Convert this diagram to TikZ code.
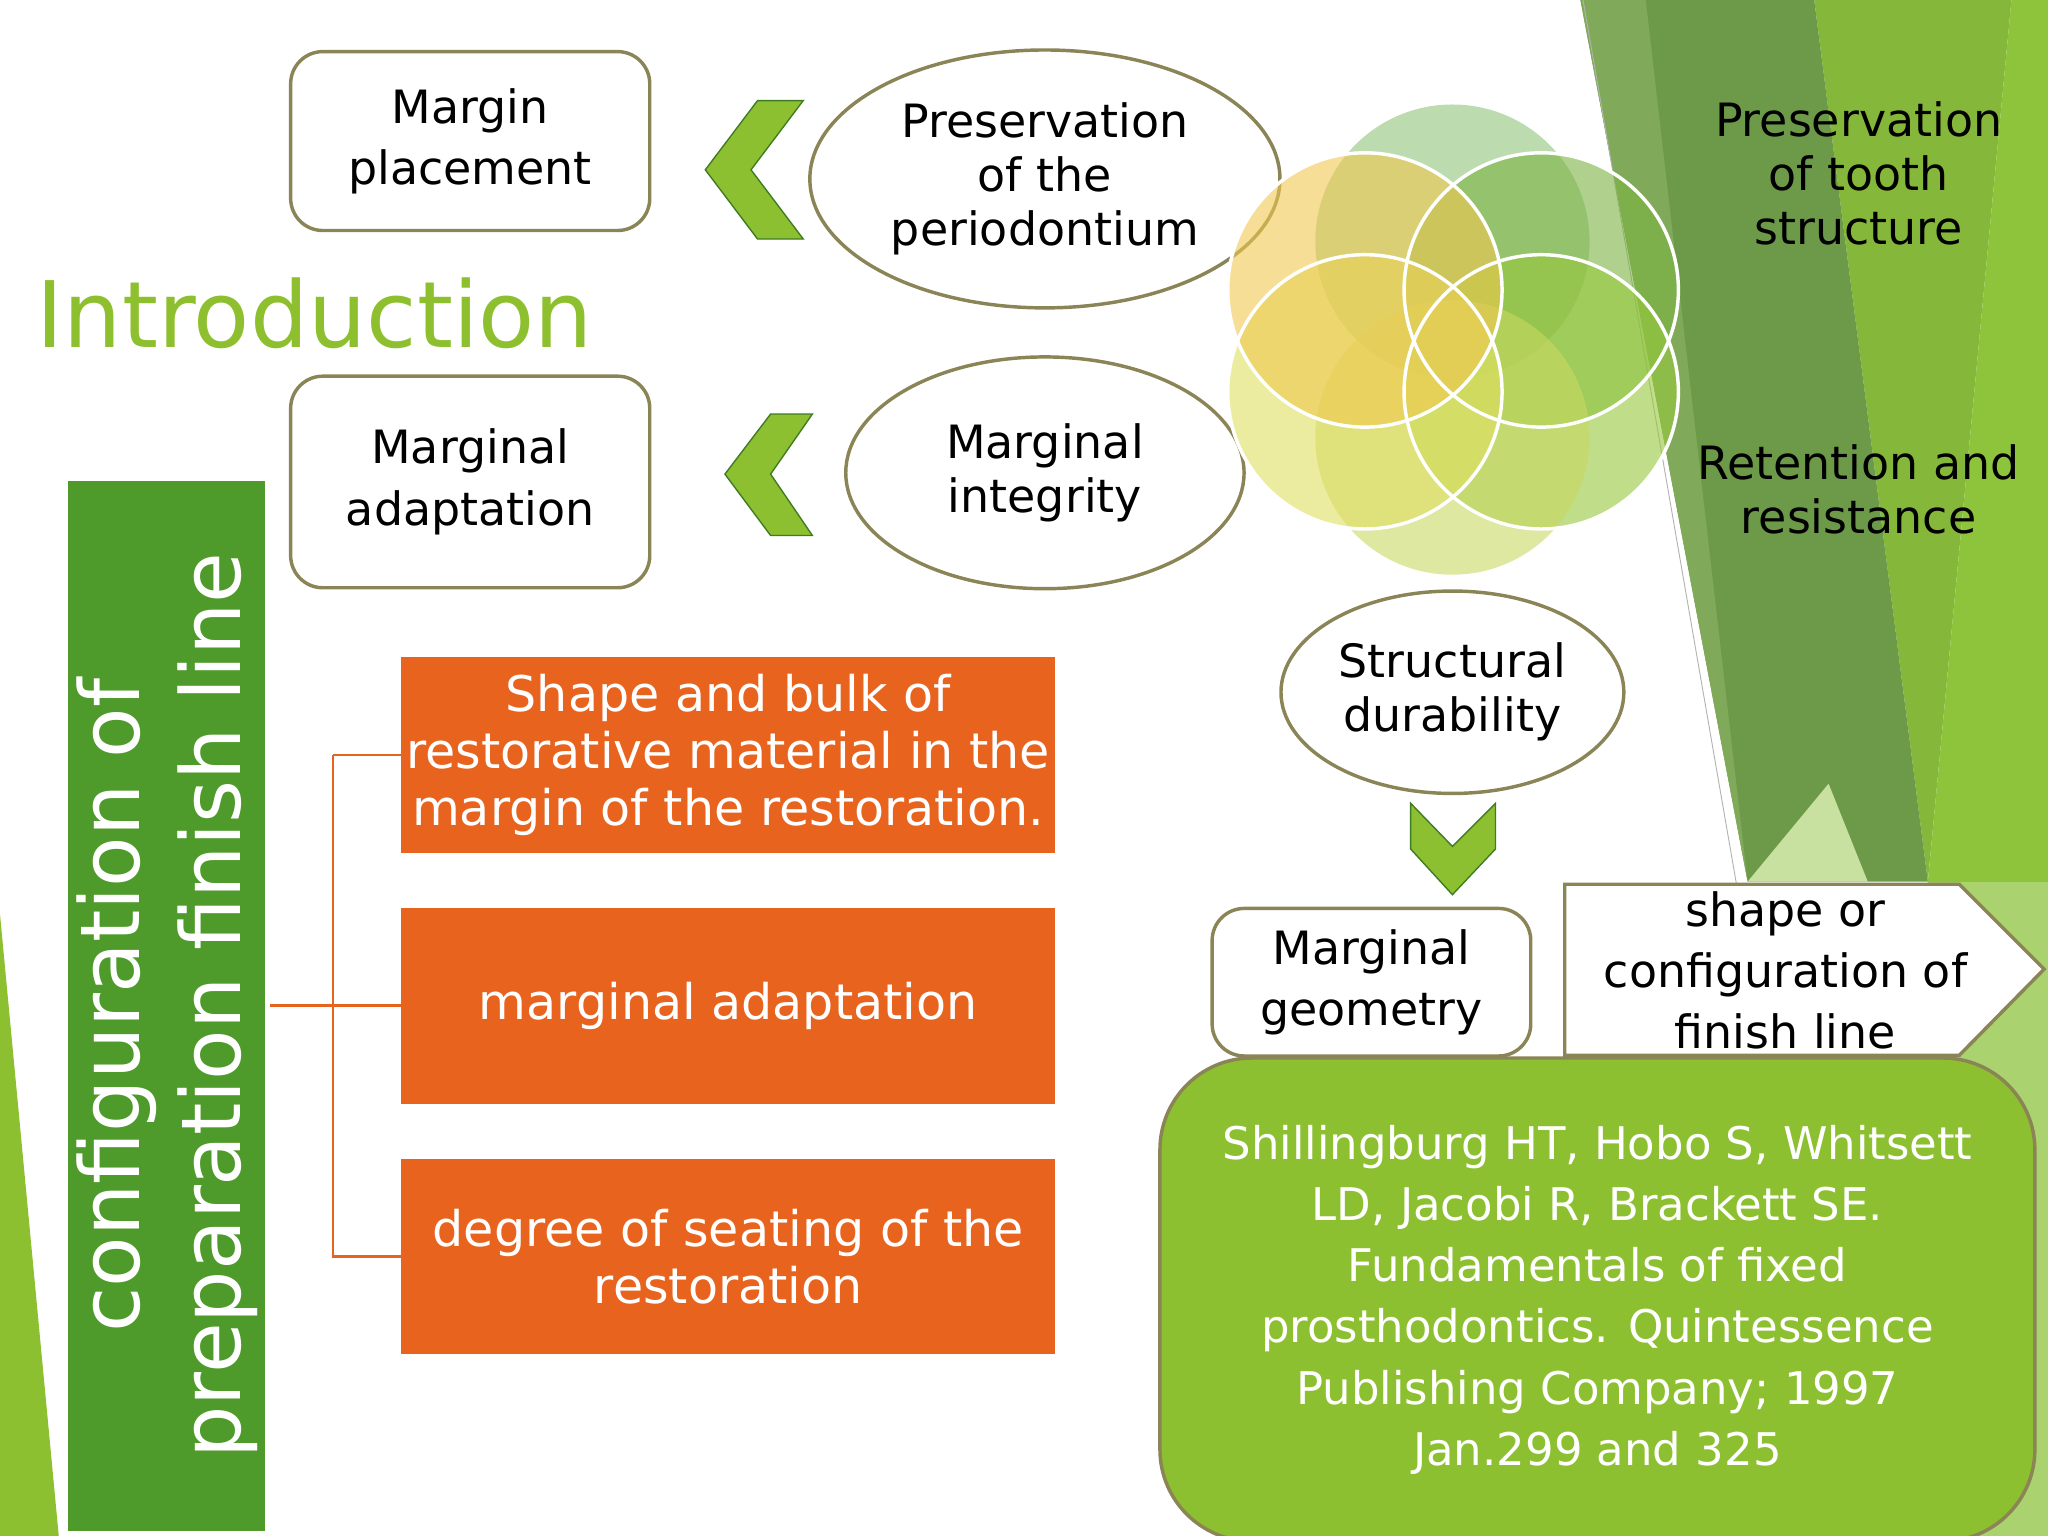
\documentclass[tikz,border=0pt]{standalone}
\usepackage{fontspec}
\setmainfont{DejaVu Sans}
\usetikzlibrary{shapes.geometric}
\definecolor{olive}{HTML}{8A8456}
\definecolor{ora}{HTML}{E8641E}
\definecolor{dg}{HTML}{4E9A2A}
\definecolor{lg}{HTML}{8DC030}
\definecolor{bgA}{RGB}{133,184,58}
\definecolor{bgB}{RGB}{141,196,60}
\definecolor{bgC}{RGB}{108,154,72}
\definecolor{bgD}{RGB}{128,170,90}
\definecolor{bgE}{RGB}{200,224,160}
\definecolor{bgF}{RGB}{170,210,110}
\definecolor{title}{RGB}{141,191,46}
\definecolor{v1}{RGB}{143,196,122}
\definecolor{v2}{RGB}{124,179,66}
\definecolor{v3}{RGB}{150,200,60}
\definecolor{v4}{RGB}{200,216,96}
\definecolor{v5}{RGB}{224,224,96}
\definecolor{v6}{RGB}{240,200,80}
\begin{document}
\begin{tikzpicture}[x=0.02cm,y=-0.02cm,
  rbox/.style={draw=olive,line width=1.5pt,rounded corners=14pt,fill=white,align=center,font=\fontsize{20}{26.5}\selectfont},
  ell/.style={draw=olive,line width=1.5pt,ellipse,fill=white,align=center,font=\fontsize{20}{23.5}\selectfont},
  obox/.style={fill=ora,text=white,align=center,font=\fontsize{21.4}{25}\selectfont,inner sep=0pt},
  chev/.style={fill=lg,draw=dg!80!black,line width=0.6pt},
  vc/.style={fill opacity=0.6}]
\useasboundingbox (0,0) rectangle (1568,1176);
% background decorations
\fill[bgA] (1389,0) -- (1540,0) -- (1476,675) -- cycle;
\fill[bgB] (1540,0) -- (1568,0) -- (1568,1176) -- (1476,1176) -- (1476,675) -- cycle;
\fill[bgC] (1210,0) -- (1389,0) -- (1476,675) -- (1338,675) -- cycle;
\fill[bgD] (1210,0) -- (1260,0) -- (1338,675) -- cycle;
\fill[bgE] (1338,675) -- (1400,600) -- (1430,675) -- cycle;
\fill[bgF] (1476,675) -- (1568,675) -- (1568,1176) -- (1476,1176) -- cycle;
\draw[gray!60] (1212,0) -- (1330,680);
\fill[lg] (0,700) -- (45,1176) -- (0,1176) -- cycle;
% Title
\node[anchor=west,text=title,font=\fontsize{40}{48}\selectfont] (intro) at (22,240) {Introduction};
% vertical bar
\fill[dg] (52,368) rectangle (203,1172);
\node[rotate=90,text=white,align=center,font=\fontsize{36}{44}\selectfont] (vt) at (128,770) {configuration of\\preparation finish line};
% boxes
\node[rbox,minimum width=5.5cm,minimum height=2.74cm] (mp) at (360,108) {Margin\\placement};
\node[rbox,minimum width=5.5cm,minimum height=3.24cm,font=\fontsize{20}{27}\selectfont] (ma) at (360,369) {Marginal\\adaptation};
\node[ell,minimum width=7.2cm,minimum height=3.95cm] (pp) at (800,137) {Preservation\\of the\\periodontium};
\node[ell,minimum width=6.1cm,minimum height=3.55cm] (mi) at (800,362) {Marginal\\integrity};
\node[ell,minimum width=5.25cm,minimum height=3.1cm] (sd) at (1112,530) {Structural\\durability};
% chevrons
\fill[chev] (615,77) -- (575,130) -- (615,183) -- (580,183) -- (540,130) -- (580,77) -- cycle;
\fill[chev] (622,317) -- (590,363) -- (622,410) -- (590,410) -- (555,363) -- (590,317) -- cycle;
\fill[chev] (1080,615) -- (1112,648) -- (1145,615) -- (1145,650) -- (1112,685) -- (1080,650) -- cycle;
% venn
\fill[vc,fill=v1] (1112,185) circle (105);
\fill[vc,fill=v2] (1180,222) circle (105);
\fill[vc,fill=v3] (1180,300) circle (105);
\fill[vc,fill=v4] (1112,335) circle (105);
\fill[vc,fill=v5] (1045,300) circle (105);
\fill[vc,fill=v6] (1045,222) circle (105);
\foreach \p in {(1180,222),(1180,300),(1045,300),(1045,222)} \draw[white,line width=1.5pt] \p circle (105);
\node[align=center,font=\fontsize{20}{23.5}\selectfont] (pt) at (1423,133) {Preservation\\of tooth\\structure};
\node[align=center,font=\fontsize{20}{23.5}\selectfont] (rr) at (1423,375) {Retention and\\resistance};
% bottom right
\node[rbox,minimum width=4.88cm,minimum height=2.26cm] (mg) at (1050,752) {Marginal\\geometry};
\draw[draw=olive,line width=1.5pt,fill=white] (1198,677) -- (1500,677) -- (1565,742) -- (1500,808) -- (1198,808) -- cycle;
\node[align=center,font=\fontsize{20}{26.5}\selectfont] (sc) at (1367,743) {shape or\\configuration of\\finish line};
\node[draw=olive,line width=1.5pt,fill=lg,rounded corners=40pt,minimum width=13.4cm,minimum height=7.4cm,text=white,align=center,font=\fontsize{19.6}{26.7}\selectfont] (ref) at (1223,995) {Shillingburg HT, Hobo S, Whitsett\\LD, Jacobi R, Brackett SE.\\Fundamentals of fixed\\prosthodontics. Quintessence\\Publishing Company; 1997\\Jan.299 and 325};
% orange boxes
\node[obox,minimum width=10.02cm,minimum height=3cm] (o1) at (557.5,578) {Shape and bulk of\\restorative material in the\\margin of the restoration.};
\node[obox,minimum width=10.02cm,minimum height=3cm] (o2) at (557.5,770) {marginal adaptation};
\node[obox,minimum width=10.02cm,minimum height=3cm] (o3) at (557.5,962) {degree of seating of the\\restoration};
\coordinate (j) at (255,770);
\draw[ora,line width=1.2pt] (207,770) -- (j) (255,578) |- (o3.west) (255,578) -- (o1.west) (j) -- (o2.west);
\end{tikzpicture}
\end{document}
